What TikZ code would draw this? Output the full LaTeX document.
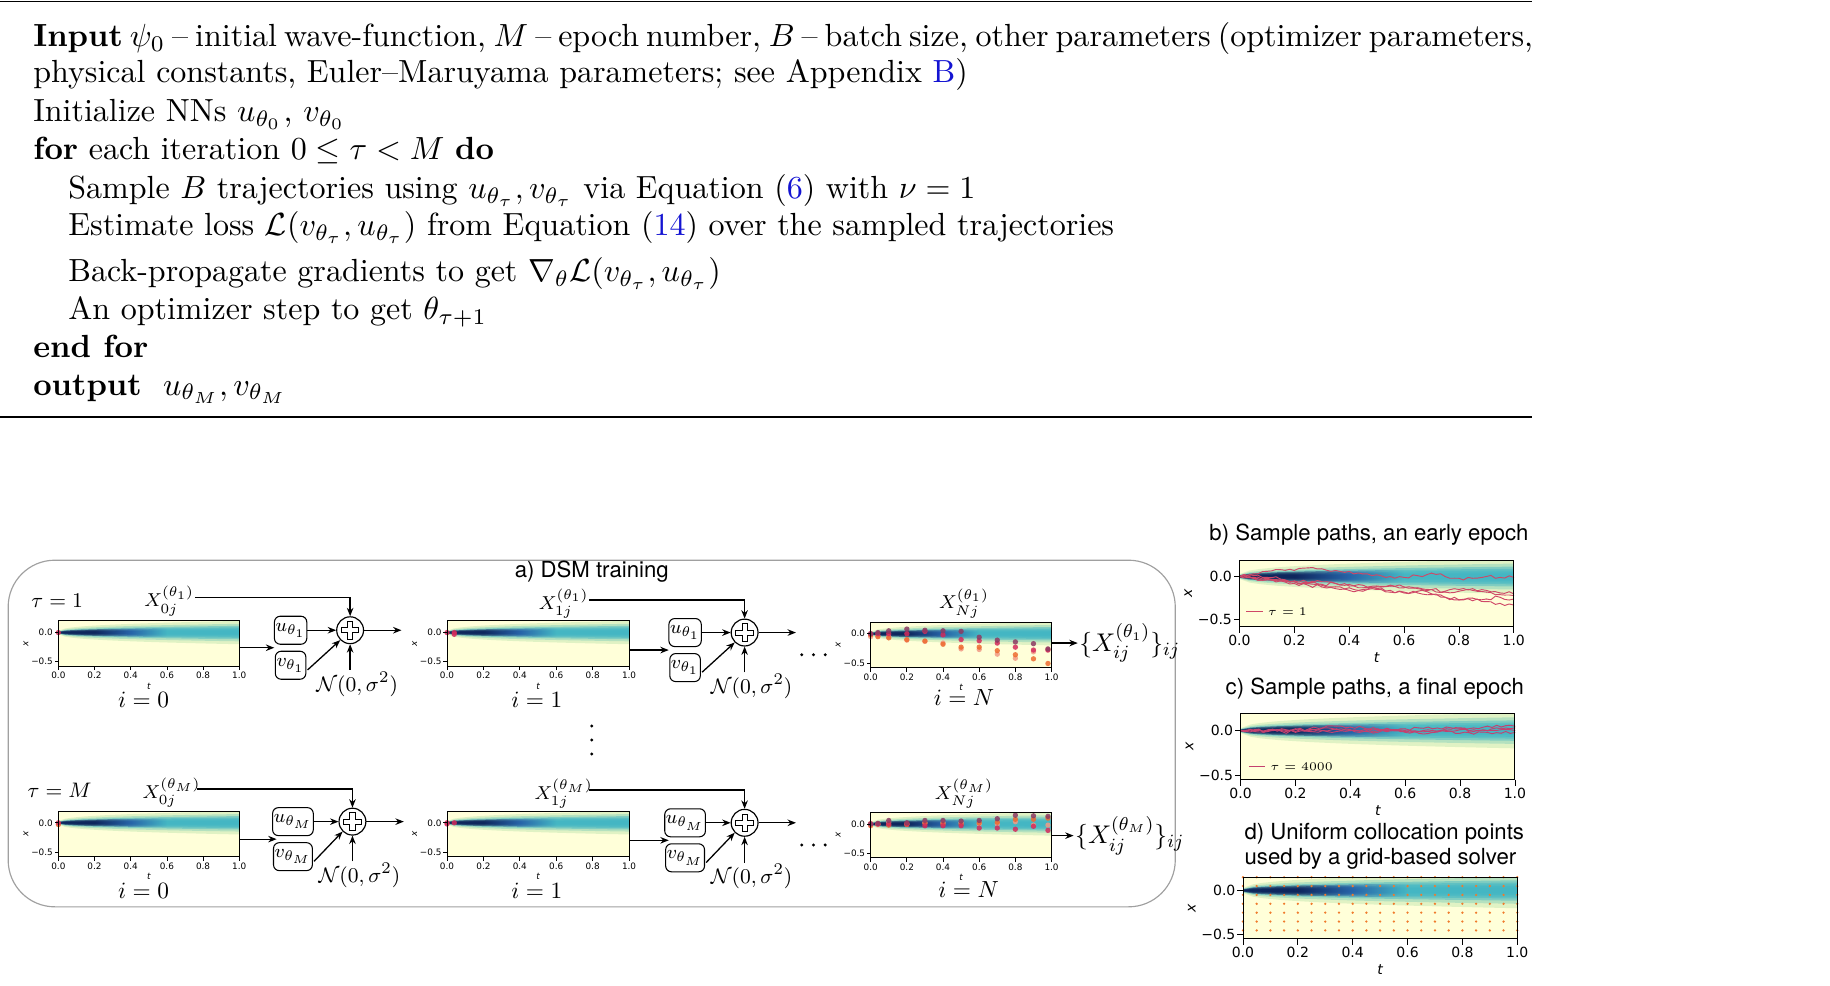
\documentclass[tikz,border=0pt]{standalone}
\usepackage{amsmath}
\usepackage{fontspec}
\newfontfamily\helv{TeX Gyre Heros}
\newfontfamily\dvs{DejaVu Sans}
\usetikzlibrary{arrows.meta,calc}
\definecolor{ylbg}{HTML}{FFFFD9}
\definecolor{grn1}{HTML}{C7E9B4}
\definecolor{grn2}{HTML}{7FCDBB}
\definecolor{teal1}{HTML}{41B6C4}
\definecolor{navy1}{HTML}{081D58}
\definecolor{blue1}{HTML}{225EA8}
\definecolor{linkblue}{RGB}{20,20,210}
\definecolor{pathred}{HTML}{CF4867}
\definecolor{pathmag}{HTML}{C4416F}
\definecolor{sA}{HTML}{8C3A62}
\definecolor{sB}{HTML}{D42A5B}
\definecolor{sC}{HTML}{EE6A2F}
\definecolor{sD}{HTML}{F29A85}
\definecolor{gdot}{HTML}{F07B2C}
\definecolor{boxgray}{HTML}{A0A0A0}
\pgfdeclarehorizontalshading{bandsh}{100bp}{color(0bp)=(navy1); color(25bp)=(navy1); color(35bp)=(navy1); color(45bp)=(blue1); color(55bp)=(teal1); color(100bp)=(teal1)}
\tikzset{
 arr/.style={-{Stealth[length=3.6pt,width=2.8pt]},line width=0.55pt},
 nnbox/.style={draw,rounded corners=2.5pt,line width=0.45pt,minimum width=11.5pt,minimum height=12pt,inner sep=0.5pt,font=\fontsize{8.5}{9}\selectfont},
 sumnode/.style={draw,circle,line width=0.5pt,minimum size=11.5pt,inner sep=0pt},
 lbl/.style={font=\fontsize{8.5}{10}\selectfont,inner sep=0.5pt},
 ilbl/.style={font=\fontsize{10}{11}\selectfont,inner sep=0.5pt},
 alg/.style={anchor=base west,inner sep=0pt,font=\fontsize{10}{12}\selectfont,scale=1.372,transform shape},
 ttl/.style={font=\helv\fontsize{9.5}{10.5}\selectfont,inner sep=0pt},
 plusout/.pic={\draw[line width=0.4pt] (-2.2,-7.5) -- (2.2,-7.5) -- (2.2,-2.2) -- (7.5,-2.2) -- (7.5,2.2) -- (2.2,2.2) -- (2.2,7.5) -- (-2.2,7.5) -- (-2.2,2.2) -- (-7.5,2.2) -- (-7.5,-2.2) -- (-2.2,-2.2) -- cycle;}
}
% heat map: #1 x0, #2 y0, #3 w, #4 h, #5 y of v=0, #6 px per unit
\newcommand\heatmap[6]{%
 \begin{scope}
  \clip (#1,#2) rectangle ++(#3,#4);
  \fill[ylbg] (#1,#2) rectangle ++(#3,#4);
  \begin{scope}[shift={(#1,#5)},xscale=#3,yscale=-#6]
   \foreach \aa/\cc/\oo in {0.2/grn1/0.55,0.15/grn2/0.45,0.115/teal1/0.45}{\fill[\cc,fill opacity=\oo] (0,0) -- plot[domain=0.003:1,samples=30] (\x,{\aa*pow(\x,0.32)}) -- plot[domain=1:0.003,samples=30] (\x,{-\aa*pow(\x,0.32)}) -- cycle;}
   \foreach \aa in {0.09,0.07,0.05,0.032}{\shade[shading=bandsh,fill opacity=0.5] (0,0) -- plot[domain=0.003:1,samples=30] (\x,{\aa*pow(\x,0.3)}) -- plot[domain=1:0.003,samples=30] (\x,{-\aa*pow(\x,0.3)}) -- cycle;}
  \end{scope}
 \end{scope}}
% axes: #1..#6 as above, #7 font size, #8 name prefix
\newcommand\plotaxes[8]{%
 \draw[line width=0.4pt] (#1,#2) rectangle ++(#3,#4);
 \foreach \tv/\lab [count=\kk] in {0/0.0,0.2/0.2,0.4/0.4,0.6/0.6,0.8/0.8,1/1.0}{%
  \draw[line width=0.3pt] ({#1+\tv*#3},{#2+#4}) -- ++(0,{0.9*#7}) node[anchor=north,inner sep=0.7pt,font=\dvs\fontsize{#7}{#7}\selectfont] (#8x\kk) {\lab};}
 \draw[line width=0.3pt] (#1,#5) -- ++({-0.8*#7},0) node[anchor=east,inner sep=0.7pt,font=\dvs\fontsize{#7}{#7}\selectfont] (#8ya) {0.0};
 \draw[line width=0.3pt] (#1,{#5+0.5*#6}) -- ++({-0.8*#7},0) node[anchor=east,inner sep=0.7pt,font=\dvs\fontsize{#7}{#7}\selectfont] (#8yb) {−0.5};
 \node[inner sep=0pt,font=\dvs\itshape\fontsize{#7}{#7}\selectfont] (#8t) at ({#1+#3/2},{#2+#4+4.4*#7}) {t};
 \node[inner sep=0pt,rotate=90,font=\dvs\itshape\fontsize{#7}{#7}\selectfont] (#8v) at ({#1-7.3*#7},{#2+#4/2}) {x};}
% jagged path: #1 x0, #2 y of v=0, #3 w, #4 px per unit, #5 values, #6 colour, #7 jitter
\newcommand\jpath[7]{%
 \foreach \vv [count=\kk, remember=\vv as \pvv (initially 0)] in {#5}{%
  \ifnum\kk>1
   \pgfmathsetmacro\xa{#1+(\kk-2)*0.05*#3}%
   \pgfmathsetmacro\xb{#1+(\kk-1)*0.05*#3}%
   \pgfmathsetmacro\xq{(2*\xa+\xb)/3}%
   \pgfmathsetmacro\xr{(\xa+2*\xb)/3}%
   \pgfmathsetmacro\ya{#2-\pvv*#4}%
   \pgfmathsetmacro\yb{#2-\vv*#4}%
   \pgfmathsetmacro\yq{(2*\ya+\yb)/3+#7*rand}%
   \pgfmathsetmacro\yr{(\ya+2*\yb)/3+#7*rand}%
   \draw[#6,line width=0.4pt,line cap=round,line join=round] (\xa,\ya) -- (\xq,\yq) -- (\xr,\yr) -- (\xb,\yb);
  \fi}}
% scatter: #1 x0, #2 y of v=0, #3 w, #4 px per unit, #5 colour, #6 list t/v
\newcommand\scat[6]{%
 \foreach \tv/\vv in {#6}{\fill[#5,fill opacity=0.85] ({#1+\tv*#3},{#2-\vv*#4}) circle[radius=2.3];}}
% one DSM cell: #1 dx, #2 dy, #3 prefix, #4 theta index, #5 X subscript
\newcommand\dsmcell[5]{%
 \begin{scope}[shift={(#1,#2)}]
  \node[lbl] (#3X) at (145,515) {$X^{(\theta_{#4})}_{#5}$};
  \node[nnbox] (#3u) at (249,540) {$u_{\theta_{#4}}$};
  \node[nnbox] (#3v) at (249,570) {$v_{\theta_{#4}}$};
  \node[sumnode] (#3s) at (300,540) {};
  \pic at (#3s) {plusout};
  \node[lbl,font=\fontsize{9.5}{10}\selectfont] (#3n) at (306,586) {$\mathcal{N}(0,\sigma^2)$};
  \coordinate (#3in) at (235,555);
  \coordinate (#3out) at (344,540);
  \coordinate (#3xs) at (167,512);
  \draw[arr] (#3u.east) -- (#3u.east -| #3s.west);
  \draw[arr] ($(#3v.east)+(1,4)$) -- (#3s.225);
  \draw[arr] (#3xs) -| (#3s.north);
  \draw[arr] (#3s.south |- #3n.north) -- (#3s.south);
  \draw[arr] (#3s.east) -- (#3out);
 \end{scope}}
\begin{document}
\begin{tikzpicture}[x=0.5pt,y=-0.5pt]
\useasboundingbox (0,0) rectangle (1568,844);
\pgfmathsetseed{11}
% ---------- algorithm ----------
\coordinate (r1a) at (0,1.2); \coordinate (r1b) at (1313,1.2);
\coordinate (r2a) at (0,357.5); \coordinate (r2b) at (1313,357.5);
\draw[line width=0.65pt] (r1a) -- (r1b);
\draw[line width=0.65pt] (r2a) -- (r2b);
\node[alg] (l1) at (28,40) {\hbox to 468.3pt{\spaceskip=3.33pt plus 1.67pt minus 1.6pt \textbf{Input} $\psi_0$ -- initial wave-function, $M$ -- epoch number, $B$ -- batch size, other parameters (optimizer parameters,}};
\node[alg] (l2) at (28,71) {physical constants, Euler--Maruyama parameters; see Appendix \textcolor{linkblue}{B})};
\node[alg] (l3) at (28,104.3) {Initialize NNs $u_{\theta_0}$\kern0.6pt, $v_{\theta_0}$};
\node[alg] (l4) at (28,137) {\textbf{for} each iteration $0 \leq \tau < M$ \textbf{do}};
\node[alg] (l5) at (58,170) {Sample $B$ trajectories using $u_{\theta_\tau}, v_{\theta_\tau}$ via Equation (\textcolor{linkblue}{6}) with $\nu = 1$};
\node[alg] (l6) at (58,202) {Estimate loss $\mathcal{L}(v_{\theta_\tau}, u_{\theta_\tau})$ from Equation (\textcolor{linkblue}{14}) over the sampled trajectories};
\node[alg] (l7) at (58,241.5) {Back-propagate gradients to get $\nabla_\theta\mathcal{L}(v_{\theta_\tau}, u_{\theta_\tau})$};
\node[alg] (l8) at (58,274) {An optimizer step to get $\theta_{\tau+1}$};
\node[alg] (l9) at (28,306) {\textbf{end for}};
\node[alg] (l10) at (28,338.5) {\textbf{output}\ \ $u_{\theta_M}, v_{\theta_M}$};
% ---------- a) DSM training ----------
\node[draw=boxgray,line width=0.5pt,rounded corners=20pt,minimum width=500pt,minimum height=148.5pt,inner sep=0pt] (box) at (507,628.5) {};
\node[ttl] (ta) at (507,490) {a) DSM training};
% row 1 plots
\heatmap{50}{532}{155}{39}{542}{50}
\scat{50}{542}{155}{50}{sB}{0/0}
\plotaxes{50}{532}{155}{39}{542}{50}{3.8}{pa}
\heatmap{383}{532}{156}{39}{542}{50}
\scat{383}{542}{156}{50}{sB}{0/0,0.04/0,0.04/-0.03}
\plotaxes{383}{532}{156}{39}{542}{50}{3.8}{pb}
\heatmap{746}{533}{155}{39}{543}{50}
\scat{746}{543}{155}{50}{sD}{0/-0.05,0.04/-0.04,0.1/-0.05,0.2/-0.11,0.3/-0.13,0.4/-0.16,0.5/-0.26,0.6/-0.27,0.7/-0.35,0.8/-0.42,0.9/-0.31,0.98/-0.27}
\scat{746}{543}{155}{50}{sC}{0/-0.02,0.04/-0.05,0.1/-0.07,0.2/-0.1,0.3/-0.125,0.4/-0.18,0.5/-0.23,0.6/-0.23,0.7/-0.29,0.8/-0.36,0.9/-0.43,0.98/-0.51}
\scat{746}{543}{155}{50}{sB}{0/0,0.04/0,0.1/0,0.2/0,0.3/0.04,0.4/-0.02,0.5/-0.1,0.6/-0.12,0.7/-0.16,0.8/-0.23,0.9/-0.28,0.98/-0.28}
\scat{746}{543}{155}{50}{sA}{0/0,0.04/0.02,0.1/0.05,0.2/0.08,0.3/0.06,0.4/0.05,0.5/0.04,0.6/-0.06,0.7/-0.11,0.8/-0.14,0.9/-0.17,0.98/-0.26}
\plotaxes{746}{533}{155}{39}{543}{50}{3.8}{pc}
% row 2 plots
\heatmap{50}{695}{155}{39}{705}{50}
\scat{50}{705}{155}{50}{sC}{0/-0.03}
\scat{50}{705}{155}{50}{sB}{0/0}
\plotaxes{50}{695}{155}{39}{705}{50}{3.8}{pd}
\heatmap{383}{695}{156}{39}{705}{50}
\scat{383}{705}{156}{50}{sB}{0/0,0.04/0,0/-0.02}
\plotaxes{383}{695}{156}{39}{705}{50}{3.8}{pe}
\heatmap{746}{696}{155}{39}{706}{50}
\scat{746}{706}{155}{50}{sD}{0/0.01,0.04/-0.01,0.1/0.03,0.2/0,0.3/0.02,0.4/0.02,0.5/0.02,0.6/0,0.7/0,0.8/0.04,0.9/-0.02,0.98/-0.02}
\scat{746}{706}{155}{50}{sC}{0/-0.03,0.04/0,0.1/-0.02,0.2/-0.01,0.3/0.01,0.4/0,0.5/0,0.6/0.02,0.7/0.03,0.8/0.08,0.9/0.08,0.98/0.1}
\scat{746}{706}{155}{50}{sB}{0/0,0.04/0,0.1/0,0.2/0,0.3/-0.03,0.4/-0.03,0.5/-0.03,0.6/-0.07,0.7/-0.07,0.8/-0.09,0.9/-0.04,0.98/-0.11}
\scat{746}{706}{155}{50}{sA}{0/0,0.04/0.01,0.1/0.06,0.2/0.02,0.3/0.06,0.4/0.06,0.5/0.05,0.6/0.06,0.7/0.09,0.8/0.15,0.9/0.14,0.98/0.13}
\plotaxes{746}{696}{155}{39}{706}{50}{3.8}{pf}
% labels
\node[lbl,font=\fontsize{9}{10}\selectfont] (tau1) at (49,515) {$\tau = 1$};
\node[lbl,font=\fontsize{9}{10}\selectfont] (tauM) at (51,677) {$\tau = M$};
\node[ilbl] (i01) at (123,600) {$i = 0$};
\node[ilbl] (i11) at (460,600) {$i = 1$};
\node[ilbl] (iN1) at (826,598) {$i = N$};
\node[ilbl] (i02) at (123,763) {$i = 0$};
\node[ilbl] (i12) at (460,763) {$i = 1$};
\node[ilbl] (iN2) at (830,762) {$i = N$};
\node[lbl] (xN1) at (826,517) {$X^{(\theta_1)}_{Nj}$};
\node[lbl] (xN2) at (826,680) {$X^{(\theta_M)}_{Nj}$};
% cells
\dsmcell{0}{0}{ca}{1}{0j}
\dsmcell{338}{2}{cb}{1}{1j}
\dsmcell{2}{164}{cc}{M}{0j}
\dsmcell{338}{165}{cd}{M}{1j}
\coordinate (pa-e) at (206,555); \coordinate (pb-e) at (540,557);
\coordinate (pd-e) at (206,719); \coordinate (pe-e) at (540,720);
\draw[arr] (pa-e) -- (cain);
\draw[arr] (pb-e) -- (cbin);
\draw[arr] (pd-e) -- (ccin);
\draw[arr] (pe-e) -- (cdin);
% dots
\foreach \xx in {687,697,707}{\fill (\xx,561) circle[radius=1.4]; \fill (\xx,724) circle[radius=1.4];}
\foreach \yy in {622,634,646}{\fill (507,\yy) circle[radius=1.4];}
% outputs
\node[font=\fontsize{11}{14}\selectfont,inner sep=0.5pt] (xo1) at (968,551) {$\{X^{(\theta_1)}_{ij}\}_{ij}$};
\node[font=\fontsize{11}{14}\selectfont,inner sep=0.5pt] (xo2) at (968,716) {$\{X^{(\theta_M)}_{ij}\}_{ij}$};
\coordinate (pc-e) at (901,551); \coordinate (pf-e) at (901,716);
\draw[arr] (pc-e) -- (xo1.west |- pc-e);
\draw[arr] (pf-e) -- (xo2.west |- pf-e);
% ---------- b) ----------
\node[ttl] (tb) at (1173,458) {b) Sample paths, an early epoch};
\heatmap{1062}{480}{235}{57}{494}{74}
\jpath{1062}{494}{235}{74}{0,0.03,0.06,0.08,0.07,0.1,0.09,0.07,0.06,0.03,0.02,0,-0.01,0.01,0.04,0,-0.02,-0.02,0,-0.01,-0.01}{pathred}{1.6}
\jpath{1062}{494}{235}{74}{0,-0.01,-0.02,-0.04,-0.06,-0.07,-0.06,-0.08,-0.09,-0.1,-0.11,-0.1,-0.12,-0.13,-0.15,-0.18,-0.17,-0.16,-0.18,-0.21,-0.22}{pathred}{1.6}
\jpath{1062}{494}{235}{74}{0,-0.02,-0.03,-0.05,-0.08,-0.1,-0.12,-0.14,-0.16,-0.17,-0.15,-0.18,-0.19,-0.17,-0.2,-0.24,-0.27,-0.25,-0.26,-0.24,-0.26}{pathred}{1.6}
\jpath{1062}{494}{235}{74}{0,0.01,-0.01,-0.03,-0.05,-0.07,-0.09,-0.08,-0.11,-0.13,-0.12,-0.11,-0.13,-0.14,-0.15,-0.17,-0.15,-0.14,-0.16,-0.19,-0.2}{pathred}{1.6}
\jpath{1062}{494}{235}{74}{0,-0.02,-0.04,-0.05,-0.06,-0.08,-0.1,-0.12,-0.13,-0.15,-0.14,-0.16,-0.18,-0.19,-0.21,-0.24,-0.27,-0.28,-0.29,-0.31,-0.33}{pathred}{1.6}
\coordinate (lgb1) at (1068,524); \coordinate (lgb2) at (1082,524);
\draw[pathred,line width=0.45pt] (lgb1) -- (lgb2);
\node[anchor=west,inner sep=0pt,font=\fontsize{3.6}{4}\selectfont] (lgbt) at (1086,524) {$\tau = 1$};
\plotaxes{1062}{480}{235}{57}{494}{74}{6}{qb}
% ---------- c) ----------
\node[ttl] (tc) at (1178,590) {c) Sample paths, a final epoch};
\heatmap{1063}{611}{235}{57}{626}{76}
\jpath{1063}{626}{235}{76}{0,0.01,0,0.01,0.02,0,0.03,0.05,0.04,0.03,0.01,0,-0.02,-0.01,0,0.02,0.03,0.01,0,0.02,0.03}{pathmag}{1.4}
\jpath{1063}{626}{235}{76}{0,0,-0.01,0,-0.01,0.01,0,0.02,0.01,-0.01,-0.02,0,0.02,0.03,0.02,0.04,0.02,-0.01,0,0.01,0}{pathmag}{1.4}
\jpath{1063}{626}{235}{76}{0,-0.01,0,-0.01,-0.02,-0.01,0,-0.01,0,0.01,0.02,0.01,-0.01,-0.03,-0.02,-0.01,-0.03,-0.04,-0.02,-0.03,-0.02}{pathmag}{1.4}
\jpath{1063}{626}{235}{76}{0,0,0.01,0.02,0.01,0.02,0.03,0.01,0,-0.01,0,0.01,0,-0.01,-0.02,0,0.01,0.03,0.05,0.04,0.05}{pathmag}{1.4}
\coordinate (lgc1) at (1070,657); \coordinate (lgc2) at (1084,657);
\draw[pathmag,line width=0.45pt] (lgc1) -- (lgc2);
\node[anchor=west,inner sep=0pt,font=\fontsize{3.6}{4}\selectfont] (lgct) at (1088,657) {$\tau = 4000$};
\plotaxes{1063}{611}{235}{57}{626}{76}{6}{qc}
% ---------- d) ----------
\node[ttl,anchor=west,align=left] (td) at (1066,725) {d) Uniform collocation points\\used by a grid-based solver};
\heatmap{1065}{752}{235}{52}{763}{76}
\foreach \ii in {0,...,20}{\foreach \vv in {0.15,0.05,-0.05,-0.15,-0.25,-0.35,-0.45}{\fill[gdot] ({1065+\ii*0.05*235},{763-\vv*76}) circle[radius=1.1];}}
\plotaxes{1065}{752}{235}{52}{763}{76}{6}{qd}
\end{tikzpicture}
\end{document}
